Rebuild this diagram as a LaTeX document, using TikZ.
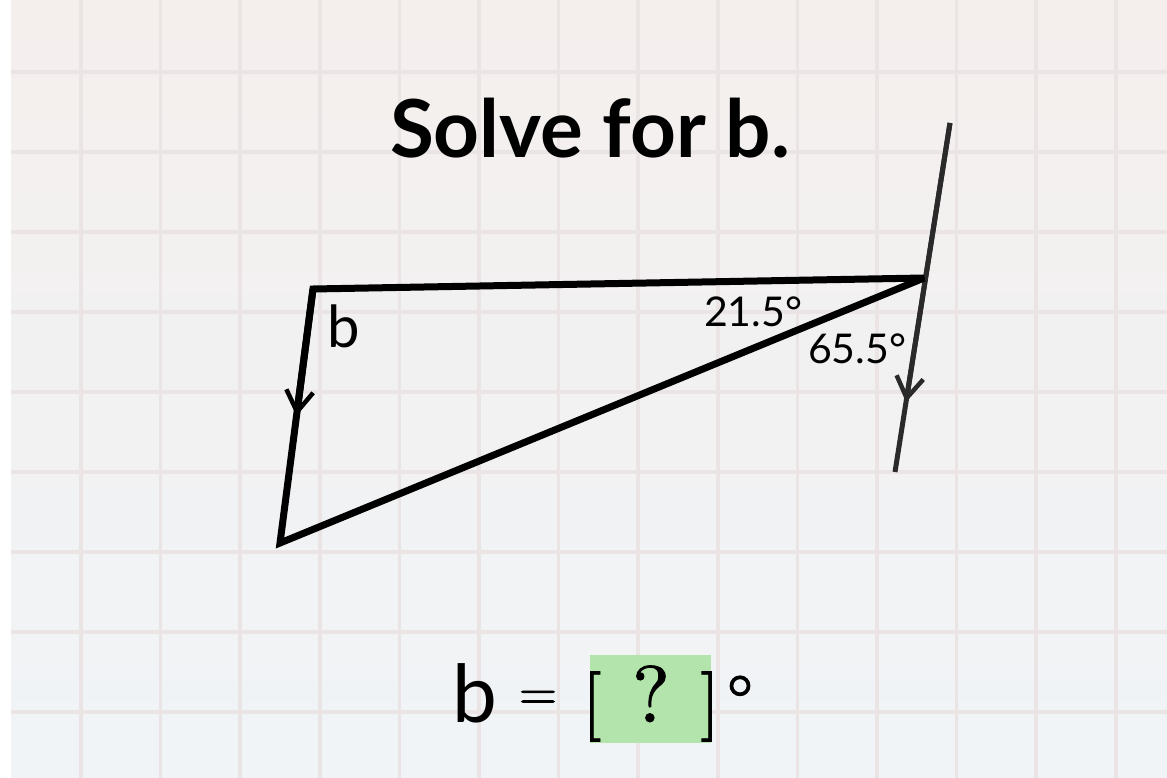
\documentclass[tikz,border=0pt]{standalone}
\usepackage{fontspec}
\setmainfont{Lato}
\newfontfamily\lmfont[Extension = .otf, FakeBold = 1.2]{lmroman10-regular}
\usepackage{tikz}
\usetikzlibrary{calc}
\usetikzlibrary{arrows.meta}
\definecolor{sheet-top}{RGB}{244, 239, 237}
\definecolor{sheet-mid}{RGB}{243, 235, 235}
\definecolor{sheet-bot}{RGB}{240, 244, 247}
\definecolor{sheet-grid}{RGB}{234, 228, 228}
\definecolor{ans-green}{RGB}{178, 228, 172}
\definecolor{line-gray}{RGB}{42, 42, 42}

\begin{document}
\begin{tikzpicture}[x = 1pt, y = -1pt,
    side/.style = {line width = 7pt, line join = miter, miter limit = 3},
    trans/.style = {line width = 5pt, line-gray},
    chev/.style = {-{Straight Barb[length = 21pt, width = 27pt, line width = 4.5pt]}},
    gridline/.style = {line width = 3.5pt, sheet-grid},
    lbl/.style = {inner sep = 0pt}]
          \useasboundingbox (0, 0) rectangle (1167, 778);

          % paper
          \fill[white] (0, 0) rectangle (1167, 778);
          \shade[top color = sheet-top, middle color = sheet-mid, bottom color = sheet-bot] (11, 0) rectangle (1167, 778);
          \foreach \gx in {0, ..., 13}
            \draw[gridline] ({81 + 79.6*\gx}, 0) -- ({81 + 79.6*\gx}, 778);
          \foreach \gy in {0, ..., 8}
            \draw[gridline] (11, {72 + 80*\gy}) -- (1167, {72 + 80*\gy});

          \coordinate (A) at (313, 289);
          \coordinate (B) at (280, 543);
          \coordinate (C) at (924, 278);
          \coordinate (T1) at (950, 123);
          \coordinate (T2) at (895, 472);

          \node[lbl, anchor = base, font = \fontsize{80}{80}\selectfont\bfseries] (title) at (590, 158) {Solve for b.};

          \draw[trans] (T1) -- (T2);
          \draw[trans, chev] (T1) -- ($(T1)!0.80!(T2)$);

          \draw[side] (A) -- (C) -- (B) -- cycle;
          \draw[side, chev] (A) -- ($(A)!0.50!(B)$);

          \node[lbl, font = \fontsize{58}{58}\selectfont] (b) at (344, 326) {b};
          \node[lbl, font = \fontsize{41}{41}\selectfont] (alpha) at (753, 312) {21.5°};
          \node[lbl, font = \fontsize{41}{41}\selectfont] (gamma) at (857, 349) {65.5°};

          % answer line
          \fill[ans-green] (590, 655) rectangle (711, 743);
          \node[lbl, anchor = base, font = \fontsize{80}{80}\selectfont] (lhs) at (475, 722) {b};
          \node[lbl, font = \lmfont\fontsize{50}{50}\selectfont] (eq) at (538, 700) {=};
          \node[lbl, anchor = base west, font = \lmfont\fontsize{70}{70}\selectfont] (lbrack) at (582, 724) {[};
          \node[lbl, anchor = base, font = \lmfont\fontsize{80}{80}\selectfont] (ans) at (651, 722) {?};
          \node[lbl, anchor = base east, font = \lmfont\fontsize{70}{70}\selectfont] (rbrack) at (720, 724) {]};
          \node[lbl, anchor = base, font = \lmfont\fontsize{72}{72}\selectfont] (deg) at (740, 725) {°};
        \end{tikzpicture}
\end{document}
